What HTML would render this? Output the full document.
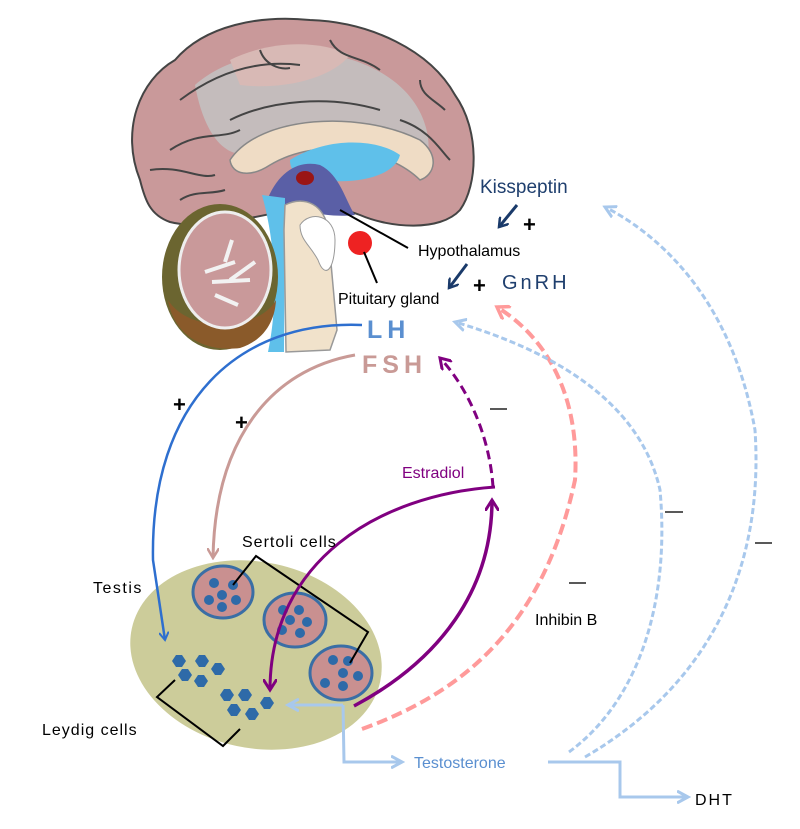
<!DOCTYPE html>
<html><head><meta charset="utf-8"><style>
html,body{margin:0;padding:0;background:#fff;}
svg{display:block;font-family:"Liberation Sans",sans-serif;}
</style></head><body>
<svg width="800" height="829" viewBox="0 0 800 829" xmlns="http://www.w3.org/2000/svg">
<defs>
<marker id="aB" markerWidth="10" markerHeight="10" refX="8" refY="5" orient="auto" markerUnits="userSpaceOnUse"><path d="M0,0 L8,5 L0,10" fill="none" stroke="#2e6fcf" stroke-width="2"/></marker>
<marker id="aF" markerWidth="12" markerHeight="12" refX="10" refY="6" orient="auto" markerUnits="userSpaceOnUse"><path d="M0,0 L10,6 L0,12" fill="none" stroke="#c99a96" stroke-width="2.5"/></marker>
<marker id="aP" markerWidth="14" markerHeight="14" refX="11" refY="7" orient="auto" markerUnits="userSpaceOnUse"><path d="M0,0 L11,7 L0,14" fill="none" stroke="#800080" stroke-width="3"/></marker>
<marker id="aR" markerWidth="16" markerHeight="16" refX="12" refY="8" orient="auto" markerUnits="userSpaceOnUse"><path d="M0,0 L12,8 L0,16" fill="none" stroke="#ff9a9a" stroke-width="3.5"/></marker>
<marker id="aL" markerWidth="14" markerHeight="14" refX="11" refY="7" orient="auto" markerUnits="userSpaceOnUse"><path d="M0,1 L11,7 L0,13" fill="none" stroke="#a8c8ec" stroke-width="3"/></marker>
<marker id="aN" markerWidth="12" markerHeight="12" refX="9" refY="6" orient="auto" markerUnits="userSpaceOnUse"><path d="M0,0 L9,6 L0,12" fill="none" stroke="#1a3a6a" stroke-width="2.5"/></marker>
</defs>

<!-- Brain -->
<path d="M140,180 C120,130 140,80 175,60 C205,25 260,15 310,20 C370,22 430,50 455,95 C480,130 478,185 460,210 C440,232 390,228 360,215 C320,200 300,205 280,212 C250,218 200,230 170,222 C150,215 145,200 140,180Z" fill="#c9999a" stroke="#444" stroke-width="2"/>
<path d="M195,85 C240,45 330,40 385,75 C425,100 435,140 425,170 C385,130 320,120 260,150 C230,165 205,140 195,85Z" fill="#c4bcbc" stroke="none"/>
<path d="M230,60 C270,40 320,40 350,55 C330,80 280,90 240,85Z" fill="#d8b9b5"/>
<path d="M180,100 C220,70 260,60 300,65 M230,120 C270,100 330,95 380,110 M170,150 C200,130 220,140 240,130 M330,40 C340,60 360,55 380,70 M400,120 C430,130 440,150 450,160 M150,170 C180,165 200,180 215,175 M260,50 C265,65 280,70 290,68 M420,80 C420,95 435,100 445,110 M180,200 C195,190 210,195 225,190" fill="none" stroke="#444" stroke-width="2"/>
<path d="M230,160 C260,115 360,110 420,140 C440,155 435,175 420,180 C390,150 320,135 270,165 C250,178 232,175 230,160Z" fill="#efdcc5" stroke="#888" stroke-width="1.5"/>
<path d="M290,160 C330,135 380,140 400,155 C395,175 360,185 320,180 C300,182 290,172 290,160Z" fill="#5fc0ea"/>
<path d="M268,198 C280,170 300,160 320,165 C340,175 345,200 355,215 C330,218 300,212 268,198Z" fill="#5a5fa6"/>
<ellipse cx="305" cy="178" rx="9" ry="7" fill="#9a1515"/>
<path d="M262,195 L285,198 L284,352 L268,352 C275,320 280,260 262,195Z" fill="#5fc0ea"/>
<ellipse cx="220" cy="277" rx="58" ry="73" fill="#6b6530"/>
<path d="M168,300 C175,340 210,352 240,348 C265,340 275,320 276,300 C260,330 190,335 168,300Z" fill="#8a5a2a"/>
<ellipse cx="225" cy="270" rx="46" ry="58" fill="#c9999a" stroke="#eee" stroke-width="3"/>
<path d="M205,272 L235,262 M212,282 L250,280 M215,295 L238,305 M225,262 L232,240 M230,280 L255,262" stroke="#f2f2f2" stroke-width="4"/>
<path d="M285,205 C305,195 325,205 328,230 L337,330 L330,350 L286,352 L284,230Z" fill="#f1e2cb" stroke="#999" stroke-width="1.5"/>
<path d="M300,225 C310,210 335,215 335,240 C335,270 325,280 318,260 C310,245 300,240 300,225Z" fill="#fff" stroke="#999"/>
<circle cx="360" cy="243" r="12" fill="#ee2222"/>
<line x1="340" y1="210" x2="408" y2="248" stroke="#000" stroke-width="2"/>
<line x1="364" y1="252" x2="377" y2="283" stroke="#000" stroke-width="2"/>

<!-- Testis -->
<ellipse cx="256" cy="655" rx="127" ry="93" transform="rotate(12 256 655)" fill="#cccc9a"/>
<g fill="#c99090" stroke="#3a6ea5" stroke-width="3">
<ellipse cx="223" cy="592" rx="30" ry="26"/><ellipse cx="295" cy="620" rx="31" ry="27"/><ellipse cx="341" cy="673" rx="31" ry="27"/>
</g>
<g fill="#2e6aa8">
<circle cx="214" cy="583" r="5"/><circle cx="233" cy="585" r="5"/><circle cx="222" cy="595" r="5"/><circle cx="209" cy="600" r="5"/><circle cx="236" cy="600" r="5"/><circle cx="222" cy="607" r="5"/>
<circle cx="283" cy="610" r="5"/><circle cx="299" cy="610" r="5"/><circle cx="290" cy="620" r="5"/><circle cx="307" cy="622" r="5"/><circle cx="282" cy="630" r="5"/><circle cx="300" cy="633" r="5"/>
<circle cx="333" cy="660" r="5"/><circle cx="348" cy="661" r="5"/><circle cx="343" cy="673" r="5"/><circle cx="358" cy="676" r="5"/><circle cx="325" cy="683" r="5"/><circle cx="343" cy="686" r="5"/>
</g>
<g fill="#2e6aa8">
<path d="M172,661 l4,-6 h6 l4,6 l-4,6 h-6z"/><path d="M195,661 l4,-6 h6 l4,6 l-4,6 h-6z"/><path d="M211,669 l4,-6 h6 l4,6 l-4,6 h-6z"/>
<path d="M178,675 l4,-6 h6 l4,6 l-4,6 h-6z"/><path d="M194,681 l4,-6 h6 l4,6 l-4,6 h-6z"/>
<path d="M220,695 l4,-6 h6 l4,6 l-4,6 h-6z"/><path d="M238,695 l4,-6 h6 l4,6 l-4,6 h-6z"/><path d="M260,703 l4,-6 h6 l4,6 l-4,6 h-6z"/>
<path d="M227,710 l4,-6 h6 l4,6 l-4,6 h-6z"/><path d="M245,714 l4,-6 h6 l4,6 l-4,6 h-6z"/>
</g>
<path d="M233,585 L256,556 L368,632 L350,663" fill="none" stroke="#000" stroke-width="2"/>
<path d="M175,680 L157,697 L223,746 L240,729" fill="none" stroke="#000" stroke-width="2"/>

<!-- LH / FSH arrows -->
<path d="M362,325 C240,320 150,400 153,560 L165,640" fill="none" stroke="#2e6fcf" stroke-width="2.5" marker-end="url(#aB)"/>
<path d="M355,355 C270,370 215,440 213,558" fill="none" stroke="#c99a96" stroke-width="3" marker-end="url(#aF)"/>

<!-- Estradiol -->
<path d="M354,706 C440,660 492,590 492,500" fill="none" stroke="#800080" stroke-width="3.5" marker-end="url(#aP)"/>
<path d="M495,487 C380,495 270,560 270,690" fill="none" stroke="#800080" stroke-width="3" marker-end="url(#aP)"/>
<path d="M493,487 C490,440 470,390 440,358" fill="none" stroke="#800080" stroke-width="3" stroke-dasharray="9,5" marker-end="url(#aP)"/>

<!-- Inhibin B -->
<path d="M362,729 C470,690 545,620 575,480 C580,400 550,340 497,307" fill="none" stroke="#ff9a9a" stroke-width="4" stroke-dasharray="11,5" marker-end="url(#aR)"/>

<!-- Testosterone feedback -->
<path d="M569,752 C640,700 670,600 660,490 C640,400 550,350 455,322" fill="none" stroke="#a8c8ec" stroke-width="3" stroke-dasharray="6,3" marker-end="url(#aL)"/>
<path d="M585,757 C700,690 765,580 755,430 C730,290 650,230 605,207" fill="none" stroke="#a8c8ec" stroke-width="3" stroke-dasharray="6,3" marker-end="url(#aL)"/>

<!-- Testosterone connectors -->
<path d="M343,705 L344,762 L402,762" fill="none" stroke="#a8c8ec" stroke-width="3" marker-end="url(#aL)"/>
<path d="M343,705 L288,705" fill="none" stroke="#a8c8ec" stroke-width="3" marker-end="url(#aL)"/>
<path d="M548,762 L620,762 L620,797 L688,797" fill="none" stroke="#a8c8ec" stroke-width="3" marker-end="url(#aL)"/>

<!-- navy arrows -->
<path d="M517,205 L499,227" stroke="#1a3a6a" stroke-width="3" marker-end="url(#aN)"/>
<path d="M467,264 L449,288" stroke="#1a3a6a" stroke-width="3" marker-end="url(#aN)"/>

<!-- Text -->
<g>
<text x="480" y="193" font-size="19" fill="#1f3f6e">Kisspeptin</text>
<text x="523" y="232" font-size="22" font-weight="bold">+</text>
<text x="473" y="293" font-size="22" font-weight="bold">+</text>
<text x="502" y="289" font-size="20" fill="#1f3f6e" letter-spacing="3">GnRH</text>
<text x="418" y="256" font-size="16">Hypothalamus</text>
<text x="338" y="304" font-size="16">Pituitary gland</text>
<text x="367" y="338" font-size="25" font-weight="bold" fill="#5a8fd0" letter-spacing="5">LH</text>
<text x="362" y="373" font-size="25" font-weight="bold" fill="#c99a96" letter-spacing="5">FSH</text>
<text x="173" y="412" font-size="22" font-weight="bold">+</text>
<text x="235" y="430" font-size="22" font-weight="bold">+</text>
<text x="402" y="478" font-size="16" fill="#800080">Estradiol</text>
<text x="242" y="547" font-size="16" letter-spacing="1">Sertoli cells</text>
<text x="93" y="593" font-size="16" letter-spacing="1.5">Testis</text>
<text x="535" y="625" font-size="16">Inhibin B</text>
<text x="42" y="735" font-size="16" letter-spacing="1">Leydig cells</text>
<text x="414" y="768" font-size="16" fill="#5a8fd0">Testosterone</text>
<text x="695" y="805" font-size="16" letter-spacing="2">DHT</text>
</g>
<g stroke="#222" stroke-width="1.5">
<line x1="490" y1="409" x2="507" y2="409"/>
<line x1="665" y1="512" x2="683" y2="512"/>
<line x1="755" y1="543" x2="772" y2="543"/>
<line x1="569" y1="583" x2="586" y2="583"/>
</g>
</svg>
</body></html>
